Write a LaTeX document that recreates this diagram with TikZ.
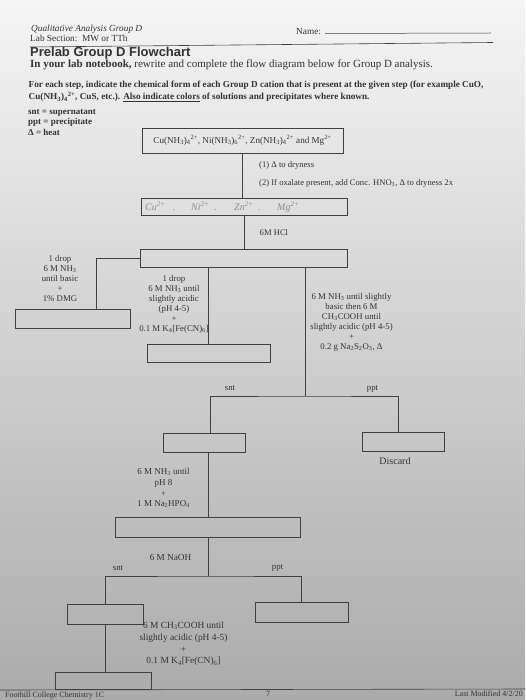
\documentclass[tikz,border=0pt]{standalone}
\usepackage{fontspec}
\setmainfont{Liberation Serif}
\newfontfamily\headfont{Liberation Sans}
\usetikzlibrary{calc}

\newcommand{\sbs}[1]{\textsubscript{#1}}
\newcommand{\chg}[1]{\textsuperscript{#1}}

\begin{document}
\begin{tikzpicture}[x=1pt,y=-1pt,
	box/.style={draw=black!75,line width=.7pt,inner sep=0pt,minimum height=19pt},
	flow/.style={text=black!80,font=\fontsize{8.8}{10}\selectfont,align=center,inner sep=0pt},
	head/.style={text=black!80,anchor=west,inner sep=0pt},
	link/.style={draw=black!75,line width=.7pt}]

	\useasboundingbox (0,0) rectangle (525,700);
	\shade[top color=black!4,middle color=black!15,bottom color=black!33] (0,0) rectangle (525,700);

	% page head
	\node[head,font=\fontsize{9.3}{11}\selectfont\itshape] (q_group) at (31,29.5) {Qualitative Analysis Group D};
	\node[head,font=\fontsize{9.3}{11}\selectfont] (q_lab) at (30,38) {Lab Section:\ \ MW or TTh};
	\node[head,font=\fontsize{9.3}{11}\selectfont] (q_name) at (296,31.5) {Name:};
	\draw[black!75,line width=.5pt] (325,33.5) -- (491,33);
	\draw[black!75,line width=.6pt] (30,47) -- (493,42.5);

	\node[head,font={\headfont\bfseries\fontsize{13}{15}\selectfont}] (title) at (30,53.5) {Prelab Group D Flowchart};
	\node[head,font=\fontsize{11}{13}\selectfont] (intro) at (30,65) {\textbf{In your lab notebook,} rewrite and complete the flow diagram below for Group D analysis.};
	\node[head,font=\bfseries\fontsize{9.2}{12.3}\selectfont,align=left,anchor=north west] (task) at (28.5,81) {For each step, indicate the chemical form of each Group D cation that is present at the given step (for example CuO,\\Cu(NH\sbs{3})\sbs{4}\chg{2+}, CuS, etc.). \underline{Also indicate colors} of solutions and precipitates where known.};
	\node[head,font=\bfseries\fontsize{9}{10.5}\selectfont,align=left,anchor=north west] (legend) at (28,109) {snt = supernatant\\ppt = precipitate\\Δ = heat};

	% boxes
	\node[box,minimum width=201pt,minimum height=25pt,flow,font=\fontsize{9.1}{10}\selectfont] (b_1) at (242.5,140.5) {Cu(NH\sbs{3})\sbs{4}\chg{2+}, Ni(NH\sbs{3})\sbs{6}\chg{2+}, Zn(NH\sbs{3})\sbs{4}\chg{2+} and Mg\chg{2+}};
	\node[box,minimum width=206pt,minimum height=17pt] (b_2) at (244,207) {};
	\node[box,minimum width=207pt,minimum height=18pt] (b_3) at (243.5,258) {};
	\node[box,minimum width=115pt] (b_4) at (72.5,319) {};
	\node[box,minimum width=123pt,minimum height=18pt] (b_5) at (208.5,353) {};
	\node[box,minimum width=82pt] (b_6) at (204.5,443) {};
	\node[box,minimum width=82pt] (b_7) at (403,442) {};
	\node[box,minimum width=185pt,minimum height=20pt] (b_8) at (208,527.5) {};
	\node[box,minimum width=76pt,minimum height=20pt] (b_9) at (105,614) {};
	\node[box,minimum width=93pt,minimum height=20pt] (b_10) at (301.5,612) {};
	\node[box,minimum width=96pt,minimum height=17pt] (b_11) at (103,681) {};

	\node[anchor=west,inner sep=0pt,text=black!45,font=\fontsize{10}{11}\selectfont\itshape] (hand) at (145,207) {\makebox[46pt][l]{Cu\chg{2+}\ \ \ .}\makebox[43pt][l]{Ni\chg{2+}\ \ .}\makebox[43pt][l]{Zn\chg{2+}\ \ .}Mg\chg{2+}};

	\coordinate (split_1) at (305,396);
	\coordinate (split_2) at (208,576);

	% connectors
	\draw[link] (b_1.south) -- (b_1.south |- b_2.north);
	\draw[link] (b_2.south) -- (b_2.south |- b_3.north);
	\draw[link] (b_3.west) -| ([xshift=23.5pt]b_4.north);
	\draw[link] (b_5.north |- b_3.south) -- (b_5.north);
	\draw[link] (split_1 |- b_3.south) -- (split_1);
	\draw[link] ([xshift=5.5pt]b_6.north) |- (split_1) -| ([xshift=-5pt]b_7.north);
	\draw[link] (b_8.north |- b_6.south) -- (b_8.north);
	\draw[link] (b_8.south) -- (split_2);
	\draw[link] (b_9.north) |- (split_2) -| (b_10.north);
	\draw[link] (b_9.south) -- (b_9.south |- b_11.north);

	% step notes
	\node[flow,anchor=west,font=\fontsize{8.6}{10}\selectfont] (n_dry) at (259,165.5) {(1) Δ to dryness};
	\node[flow,anchor=west,font=\fontsize{8.6}{10}\selectfont] (n_hno) at (259,183.5) {(2) If oxalate present, add Conc. HNO\sbs{3}, Δ to dryness 2x};
	\node[flow,anchor=west,font=\fontsize{8.6}{10}\selectfont] (n_hcl) at (259.5,232.5) {6M HCl};

	\node[flow] (s_dmg) at (60,279) {1 drop\\6 M NH\sbs{3}\\until basic\\+\\1\% DMG};
	\node[flow] (s_fe) at (174,304) {1 drop\\6 M NH\sbs{3} until\\slightly acidic\\(pH 4-5)\\+\\0.1 M K\sbs{4}[Fe(CN)\sbs{6}]};
	\node[flow] (s_thio) at (351.5,322.5) {6 M NH\sbs{3} until slightly\\basic then 6 M\\CH\sbs{3}COOH until\\slightly acidic (pH 4-5)\\+\\0.2 g Na\sbs{2}S\sbs{2}O\sbs{3}, Δ};

	\node[flow] (l_snt1) at (230,388.5) {snt};
	\node[flow] (l_ppt1) at (372.5,388.5) {ppt};
	\node[flow,font=\fontsize{10}{12}\selectfont] (l_discard) at (395,461) {Discard};

	\node[flow,font=\fontsize{9}{10.8}\selectfont] (s_phos) at (163.5,488) {6 M NH\sbs{3} until\\pH 8\\+\\1 M Na\sbs{2}HPO\sbs{4}};
	\node[flow,font=\fontsize{9.2}{11}\selectfont] (l_naoh) at (170.5,557.5) {6 M NaOH};
	\node[flow] (l_snt2) at (118,568.5) {snt};
	\node[flow] (l_ppt2) at (277.5,567.5) {ppt};
	\node[flow,font=\fontsize{9.4}{11.7}\selectfont] (s_mg) at (183.5,644) {6 M CH\sbs{3}COOH until\\slightly acidic (pH 4-5)\\+\\0.1 M K\sbs{4}[Fe(CN)\sbs{6}]};

	% page foot
	\draw[black!75,line width=.6pt] (0,690) -- (525,689);
	\node[head,anchor=north west,font=\fontsize{8}{9}\selectfont] (f_left) at (5,691.5) {Foothill College Chemistry 1C};
	\node[head,anchor=north,font=\fontsize{8}{9}\selectfont] (f_page) at (268,691.5) {7};
	\node[head,anchor=north east,font=\fontsize{8}{9}\selectfont] (f_date) at (523,691) {Last Modified 4/2/20};

\end{tikzpicture}
\end{document}
